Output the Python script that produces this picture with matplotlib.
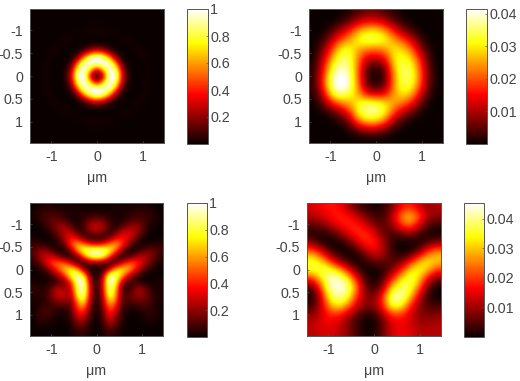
import numpy as np
import matplotlib
matplotlib.use("Agg")
import matplotlib.pyplot as plt

plt.rcParams['font.family'] = ['Liberation Sans', 'DejaVu Sans']
plt.rcParams['axes.unicode_minus'] = False

panel_a = [
[0]*21,
[0]*21,
[0,0,0,0,0,0,0,0,0,.01,.01,.01,0,0,0,0,0,0,0,0,0],
[0,0,0,0,0,0,0,.01,.02,.02,.02,.02,.02,.01,0,0,0,0,0,0,0],
[0,0,0,0,0,.02,.02,.01,0,0,0,0,0,.01,.02,.02,0,0,0,0,0],
[0,0,0,0,.02,.01,0,0,0,.01,.01,.01,0,0,0,.01,.02,0,0,0,0],
[0,0,0,.02,.01,0,0,.01,.06,.22,.3,.22,.06,.01,0,0,.01,.02,0,0,0],
[0,0,.01,.02,0,0,.01,.12,.55,.88,1,.88,.55,.12,.01,0,0,.02,.01,0,0],
[0,0,.02,0,0,0,.06,.55,1,1,1.08,1,1,.55,.06,0,0,0,.02,0,0],
[0,0,.02,0,0,.01,.22,.88,1,.72,.2,.72,1,.88,.22,.01,0,0,.02,0,0],
[0,0,.02,0,0,.01,.3,1,1.08,.2,0,.2,1.08,1,.3,.01,0,0,.02,0,0],
[0,0,.02,0,0,.01,.22,.88,1,.72,.2,.72,1,.88,.22,.01,0,0,.02,0,0],
[0,0,.02,0,0,0,.06,.55,1,1,1.08,1,1,.55,.06,0,0,0,.02,0,0],
[0,0,.01,.02,0,0,.01,.12,.55,.88,1,.88,.55,.12,.01,0,0,.02,.01,0,0],
[0,0,0,.02,.01,0,0,.01,.06,.22,.3,.22,.06,.01,0,0,.01,.02,0,0,0],
[0,0,0,0,.02,.01,0,0,0,.01,.01,.01,0,0,0,.01,.02,0,0,0,0],
[0,0,0,0,0,.02,.02,.01,0,0,0,0,0,.01,.02,.02,0,0,0,0,0],
[0,0,0,0,0,0,0,.01,.02,.02,.02,.02,.02,.01,0,0,0,0,0,0,0],
[0,0,0,0,0,0,0,0,0,.01,.01,.01,0,0,0,0,0,0,0,0,0],
[0]*21,
[0]*21,
]

panel_b = [
[0,0,0,0,.04,.1,.15,.15,.1,.04,0,0,0,0,0],
[0,0,0,.06,.15,.3,.38,.38,.3,.15,.06,0,0,0,0],
[0,0,.1,.25,.42,.62,.74,.74,.62,.42,.2,.1,0,0,0],
[0,.06,.25,.48,.6,.78,.85,.85,.78,.6,.5,.3,.1,0,0],
[0,.15,.42,.74,.78,.62,.55,.52,.58,.74,.68,.52,.2,.04,0],
[0,.25,.58,.85,.85,.55,.3,.28,.36,.72,.8,.68,.38,.06,0],
[.04,.3,.74,.95,.88,.52,.12,.05,.15,.66,.86,.8,.46,.1,0],
[.04,.38,.85,1.05,.95,.5,.08,0,.08,.58,.86,.84,.5,.12,0],
[.04,.38,.88,1.1,.95,.55,.12,.04,.12,.58,.84,.8,.46,.1,0],
[.04,.25,.74,.92,.8,.62,.35,.28,.35,.6,.74,.64,.32,.06,0],
[0,.12,.38,.55,.62,.75,.85,.82,.72,.62,.55,.4,.15,0,0],
[0,.02,.1,.22,.42,.78,.92,.92,.78,.48,.28,.15,.02,0,0],
[0,0,0,.05,.18,.55,.7,.7,.55,.22,.08,0,0,0,0],
[0,0,0,0,.04,.15,.25,.25,.15,.04,0,0,0,0,0],
[0]*15,
]

panel_c = [
[0,.02,.03,.03,.02,.02,.02,.02,.01,.01,.01,.01,.01,.02,.02,.02,.03,.03,.02,.01,0],
[.02,.06,.08,.08,.06,.04,.03,.04,.03,.03,.03,.02,.03,.03,.03,.04,.05,.06,.06,.04,.01],
[.02,.05,.09,.12,.12,.07,.02,.02,.06,.12,.14,.12,.06,.02,.02,.06,.10,.10,.07,.04,.01],
[0,.02,.06,.14,.2,.2,.1,.02,.1,.25,.3,.25,.1,.02,.08,.16,.2,.16,.06,.02,0],
[0,0,.02,.08,.18,.28,.25,.08,.06,.2,.25,.2,.06,.1,.25,.3,.28,.15,.04,0,0],
[.02,.01,0,.02,.1,.25,.4,.3,.1,.02,.02,.02,.12,.3,.4,.35,.2,.06,0,0,.01],
[.06,.06,.03,0,.03,.15,.48,.65,.55,.38,.32,.38,.55,.65,.48,.2,.05,0,.02,.04,.05],
[.1,.2,.2,.1,.01,.02,.18,.62,.88,.95,1,.95,.82,.55,.2,.02,.01,.08,.15,.15,.08],
[.08,.22,.32,.3,.2,.05,.02,.1,.48,.8,.9,.8,.48,.1,.02,.06,.2,.28,.25,.15,.05],
[.03,.12,.28,.5,.55,.5,.32,.06,.02,.08,.12,.08,.02,.08,.32,.5,.5,.35,.2,.08,.02],
[.01,.03,.1,.25,.48,.7,.78,.65,.2,.03,0,.03,.25,.7,.75,.68,.42,.2,.06,.02,0],
[0,0,.02,.08,.2,.42,.8,1,.78,.12,0,.2,1,.92,.65,.3,.1,.02,0,0,.01],
[.03,.02,.02,.02,.1,.15,.42,.95,1,.25,0,.3,1,.85,.25,.06,.1,.02,.01,.02,.03],
[.06,.05,.05,.15,.28,.2,.3,.85,1,.3,0,.3,.95,.7,.1,.02,.15,.25,.1,.04,.03],
[.04,.04,.06,.2,.3,.3,.2,.8,.95,.3,0,.25,.9,.65,.1,.12,.2,.22,.15,.05,.03],
[.02,.03,.05,.1,.2,.2,.15,.6,.8,.22,0,.2,.7,.55,.1,.1,.12,.15,.12,.05,.02],
[.01,.05,.08,.08,.06,.06,.12,.45,.55,.15,0,.15,.52,.38,.08,.04,.04,.06,.07,.05,.01],
[.01,.08,.1,.06,.02,.02,.08,.35,.38,.1,0,.1,.42,.25,.06,0,0,.02,.05,.05,.02],
[.01,.05,.05,.03,0,.01,.05,.22,.22,.05,0,.06,.3,.18,.05,0,0,.01,.03,.03,.01],
[0,.02,.02,.01,0,0,.03,.12,.12,.03,0,.04,.18,.1,.02,0,0,0,0,.01,0],
[0,0,0,0,0,0,.01,.05,.06,.02,0,.02,.08,.04,.01,0,0,0,0,0,0],
]

panel_d = [
[.3,.35,.4,.38,.25,.12,.04,.02,.04,.15,.35,.42,.3,.2,.25],
[.25,.3,.35,.42,.4,.3,.18,.08,.08,.25,.55,.7,.5,.25,.2],
[.12,.15,.25,.35,.42,.42,.32,.18,.1,.2,.42,.55,.32,.12,.05],
[.03,.02,.05,.15,.3,.42,.45,.35,.15,.08,.12,.18,.08,.01,0],
[.2,.05,0,0,.08,.25,.42,.42,.25,.05,0,0,.02,.1,.2],
[.55,.38,.12,.02,0,.03,.2,.35,.25,.08,0,.02,.15,.45,.6],
[.8,.7,.45,.2,.06,0,.05,.15,.15,.1,.12,.32,.6,.75,.68],
[.8,.85,.82,.65,.4,.12,0,0,.03,.15,.38,.68,.8,.68,.45],
[.42,.68,.95,.98,.78,.4,.08,0,.08,.38,.68,.85,.72,.35,.15],
[.08,.45,.92,1,.95,.58,.15,.05,.2,.68,.85,.85,.55,.15,0],
[.02,.25,.8,.92,.85,.45,.2,.15,.42,.92,.95,.72,.32,.05,0],
[.05,.25,.6,.78,.6,.32,.2,.2,.42,.85,.82,.45,.2,.1,.08],
[.18,.28,.42,.42,.3,.15,.05,.05,.25,.45,.45,.32,.2,.16,.18],
[.26,.32,.35,.3,.2,.06,0,0,.12,.32,.35,.3,.22,.22,.25],
[.26,.3,.32,.28,.2,.1,.02,.02,.15,.3,.36,.33,.26,.26,.26],
]

peaks = [1.0, 0.0415, 1.0, 0.0453]
x_ticks = [-1, 0, 1]
y_ticks = [-1, -0.5, 0, 0.5, 1]
y_tick_labels = ['-1', '-0.5', '0', '0.5', '1']
cbar_ticks_unit = [0.2, 0.4, 0.6, 0.8, 1]
cbar_labels_unit = ['0.2', '0.4', '0.6', '0.8', '1']
cbar_ticks_small = [0.01, 0.02, 0.03, 0.04]
cbar_labels_small = ['0.01', '0.02', '0.03', '0.04']
half_width = 1.47

W, H = 520, 381
fig = plt.figure(figsize=(W/100, H/100), dpi=100)
TXT = '#444444'
EDGE = '#555555'
FS = 10.3

def box(x0, y0, x1, y1):
    return [x0/W, 1 - y1/H, (x1-x0)/W, (y1-y0)/H]

boxes = [((30, 9, 164, 143), (187, 9, 208, 144)),
         ((309, 9, 443, 143), (466, 9, 487, 144)),
         ((30, 203, 163, 336), (187, 203, 207, 337)),
         ((307, 203, 441, 336), (464, 203, 484, 337))]
grids = [panel_a, panel_b, panel_c, panel_d]

for k, (grid, peak, (ab, cb)) in enumerate(zip(grids, peaks, boxes)):
    ax = fig.add_axes(box(*ab))
    im = ax.imshow(np.array(grid, dtype=float) * peak, cmap='hot', vmin=0, vmax=peak,
                   extent=(-half_width, half_width, half_width, -half_width),
                   interpolation='bicubic', aspect='auto')
    ax.set_xticks(x_ticks)
    ax.set_xticklabels([str(t) for t in x_ticks])
    ax.set_yticks(y_ticks)
    ax.set_yticklabels(y_tick_labels)
    ax.tick_params(direction='in', length=1.5, width=0.5, color=EDGE, labelcolor=TXT,
                   labelsize=FS, pad=5)
    ax.set_xlabel('μm', fontsize=FS, color=TXT, labelpad=5)
    for s in ax.spines.values():
        s.set_color(EDGE)
        s.set_linewidth(0.7)
    cax = fig.add_axes(box(*cb))
    cbar = fig.colorbar(im, cax=cax)
    if k in (0, 2):
        cbar.set_ticks(cbar_ticks_unit, labels=cbar_labels_unit)
    else:
        cbar.set_ticks(cbar_ticks_small, labels=cbar_labels_small)
    cbar.ax.tick_params(direction='in', length=1.5, width=0.5, color=EDGE, labelcolor=TXT,
                        labelsize=FS, pad=1.5)
    cbar.outline.set_edgecolor(EDGE)
    cbar.outline.set_linewidth(0.7)

fig.savefig('out.png', dpi=100)
